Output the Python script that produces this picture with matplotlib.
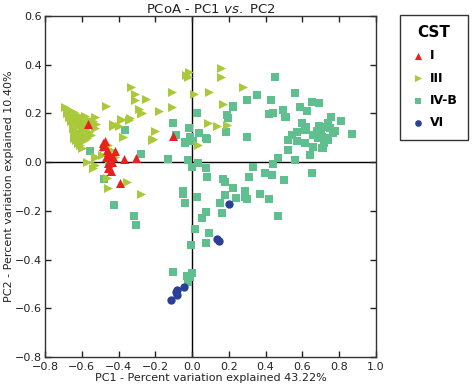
import matplotlib
matplotlib.use('Agg')
import matplotlib.pyplot as plt

# CST I
i_x = [-0.565, -0.483, -0.475, -0.485, -0.465, -0.46, -0.45, -0.43, -0.466, -0.42,
       -0.437, -0.455, -0.45, -0.44, -0.457, -0.372, -0.306, -0.105, -0.392]
i_y = [0.157, 0.078, 0.085, 0.065, 0.05, 0.04, 0.03, 0.023, 0.023, 0.045,
       0.002, -0.025, -0.018, -0.038, -0.005, 0.012, 0.016, 0.108, -0.086]

# CST III
iii_x = [-0.69, -0.67, -0.66, -0.65, -0.64, -0.63, -0.62, -0.61, -0.60, -0.59,
         -0.58, -0.56, -0.55, -0.68, -0.67, -0.66, -0.65, -0.64, -0.63, -0.62,
         -0.61, -0.60, -0.59, -0.58, -0.57, -0.65, -0.64, -0.63, -0.62, -0.61,
         -0.60, -0.59, -0.64, -0.63, -0.62, -0.60, -0.58, -0.57, -0.55, -0.56,
         -0.53, -0.52, -0.54, -0.528, -0.61, -0.60,
         -0.48, -0.46, -0.44, -0.43, -0.45, -0.49, -0.42,
         -0.573, -0.537, -0.52, -0.53, -0.528, -0.465, -0.356, -0.455, -0.28,
         -0.47, -0.43, -0.428, -0.386, -0.337, -0.274, -0.376, -0.219, -0.40,
         -0.385, -0.345, -0.33, -0.31, -0.31, -0.25, -0.29, -0.28, -0.18, -0.11,
         -0.11, -0.035, -0.016, -0.02, 0.01, -0.2, -0.21, 0.034, 0.16, 0.155,
         0.09, 0.17, 0.089, 0.134, 0.192, 0.276]
iii_y = [0.225, 0.215, 0.21, 0.20, 0.205, 0.195, 0.19, 0.18, 0.185, 0.17,
         0.19, 0.175, 0.16, 0.20, 0.185, 0.17, 0.16, 0.175, 0.165, 0.15,
         0.16, 0.14, 0.15, 0.135, 0.145, 0.14, 0.13, 0.12, 0.11, 0.12,
         0.10, 0.115, 0.10, 0.09, 0.08, 0.085, 0.09, 0.10, 0.11, 0.125,
         0.14, 0.155, 0.17, 0.187, 0.07, 0.06,
         0.06, 0.07, 0.05, 0.03, 0.0, 0.03, 0.02,
         0.002, -0.025, 0.02, -0.01, 0.023, -0.066, -0.08, -0.107, -0.13,
         0.23, 0.15, 0.157, 0.176, 0.18, 0.20, 0.105, 0.091, 0.15,
         0.175, 0.175, 0.31, 0.28, 0.255, 0.26, 0.22, 0.20, 0.21, 0.225,
         0.29, 0.36, 0.37, 0.35, 0.28, 0.13, 0.094, 0.071, 0.385, 0.35,
         0.29, 0.24, 0.162, 0.149, 0.153, 0.31]

# CST IV-B
ivb_x = [-0.553, -0.367, -0.276, -0.48, -0.13, -0.105, -0.09, -0.04, -0.015, -0.01,
         0.004, 0.027, 0.04, 0.078, -0.038, -0.129, -0.02, -0.002, 0.034, 0.076,
         0.08, 0.17, 0.18, 0.225, 0.288, 0.312, 0.334, -0.05, 0.189, 0.185,
         0.298, 0.196, 0.22, 0.08,
         -0.424, -0.314, -0.305, -0.038, -0.05, 0.029, 0.053, 0.076, 0.016, 0.094,
         0.076, -0.007, -0.105, -0.029, -0.011, -0.002, -0.02, 0.152, 0.162, 0.18,
         0.24, 0.288, 0.298, 0.37, 0.42, 0.47,
         0.452, 0.352, 0.298, 0.225, 0.428, 0.56, 0.651, 0.693, 0.588, 0.627,
         0.494, 0.512, 0.421, 0.44, 0.597, 0.62, 0.809, 0.869, 0.755, 0.542,
         0.524, 0.57, 0.642, 0.706, 0.47, 0.56, 0.44, 0.397, 0.33, 0.434,
         0.312, 0.50, 0.651, 0.506, 0.615, 0.57, 0.615, 0.66, 0.711, 0.524,
         0.756, 0.678, 0.687, 0.724, 0.742, 0.706, 0.73, 0.769, 0.70, 0.75,
         0.78, 0.72, 0.66, 0.69, 0.74]
ivb_y = [0.044, 0.133, 0.034, -0.07, 0.012, 0.162, 0.112, 0.08, 0.139, 0.105,
         0.087, 0.203, 0.121, 0.098, 0.082, 0.012, 0.009, -0.018, -0.002, -0.025,
         -0.061, -0.07, -0.08, -0.107, -0.12, -0.059, -0.02, -0.12, 0.194, 0.125,
         0.105, 0.18, 0.228, 0.096,
         -0.175, -0.219, -0.257, -0.166, -0.13, -0.145, -0.23, -0.203, -0.275, -0.289,
         -0.332, -0.339, -0.449, -0.466, -0.472, -0.453, -0.49, -0.168, -0.209, -0.134,
         -0.148, -0.141, -0.152, -0.13, -0.152, -0.219,
         0.351, 0.276, 0.255, 0.231, 0.255, 0.283, 0.248, 0.244, 0.225, 0.211,
         0.214, 0.187, 0.198, 0.20, 0.16, 0.143, 0.171, 0.116, 0.184, 0.112,
         0.091, 0.085, 0.03, 0.057, 0.019, 0.009, -0.007, -0.043, -0.018, -0.052,
         -0.059, -0.073, -0.045, 0.187, 0.132, 0.125, 0.078, 0.064, 0.057, 0.05,
         0.184, 0.126, 0.098, 0.146, 0.16, 0.105, 0.10, 0.119, 0.13, 0.14,
         0.13, 0.08, 0.11, 0.15, 0.09]

# CST VI
vi_x = [0.203, 0.138, 0.145, -0.044, -0.080, -0.083, -0.088, -0.116]
vi_y = [-0.171, -0.316, -0.322, -0.513, -0.526, -0.544, -0.535, -0.565]

fig = plt.figure(figsize=(4.74, 3.87), dpi=100)
ax = fig.add_axes([0.095, 0.0775, 0.698, 0.881])

ax.axhline(0, color='black', lw=1.0, zorder=1)
ax.axvline(0, color='black', lw=1.0, zorder=1)

ax.scatter(ivb_x, ivb_y, marker='s', s=36, color='#5fbf8e', linewidths=0, label='IV-B', zorder=2)
ax.scatter(iii_x, iii_y, marker='>', s=42, color='#a9c93b', linewidths=0, label='III', zorder=3)
ax.scatter(i_x, i_y, marker='^', s=42, color='#e8201e', linewidths=0, label='I', zorder=4)
ax.scatter(vi_x, vi_y, marker='o', s=36, color='#2a4096', linewidths=0, label='VI', zorder=5)

ax.set_xlim(-0.8, 1.0)
ax.set_ylim(-0.8, 0.6)
ax.set_xticks([-0.8, -0.6, -0.4, -0.2, 0.0, 0.2, 0.4, 0.6, 0.8, 1.0])
ax.set_yticks([-0.8, -0.6, -0.4, -0.2, 0.0, 0.2, 0.4, 0.6])
ax.tick_params(direction='in', top=True, right=True, length=4, width=1,
               labelsize=8, pad=2, colors='#222222')
ax.tick_params(axis='x', pad=3.5)
for sp in ax.spines.values():
    sp.set_color('#333333')
    sp.set_linewidth(1.0)

ax.set_title(r'PCoA - PC1 $\it{vs.}$ PC2', fontsize=9.5, pad=2, color='#222222')
ax.set_xlabel('PC1 - Percent variation explained 43.22%', fontsize=8, labelpad=1, color='#222222')
ax.set_ylabel('PC2 - Percent variation explained 10.40%', fontsize=8, labelpad=1, color='#222222')

handles, labels = ax.get_legend_handles_labels()
order = [2, 1, 0, 3]
leg = ax.legend([handles[k] for k in order], [labels[k] for k in order],
                title='CST', loc='upper left', bbox_to_anchor=(400 / 474, 1 - 15 / 387),
                bbox_transform=fig.transFigure, fancybox=False, edgecolor='black',
                prop={'weight': 'bold', 'size': 9}, markerscale=0.8,
                handletextpad=0.4, borderpad=0.8, labelspacing=0.75,
                handlelength=1.2, borderaxespad=0)
leg.get_title().set_fontweight('bold')
leg.get_title().set_fontsize(11)
leg.get_frame().set_linewidth(1.0)

fig.savefig('out.png', dpi=100)
